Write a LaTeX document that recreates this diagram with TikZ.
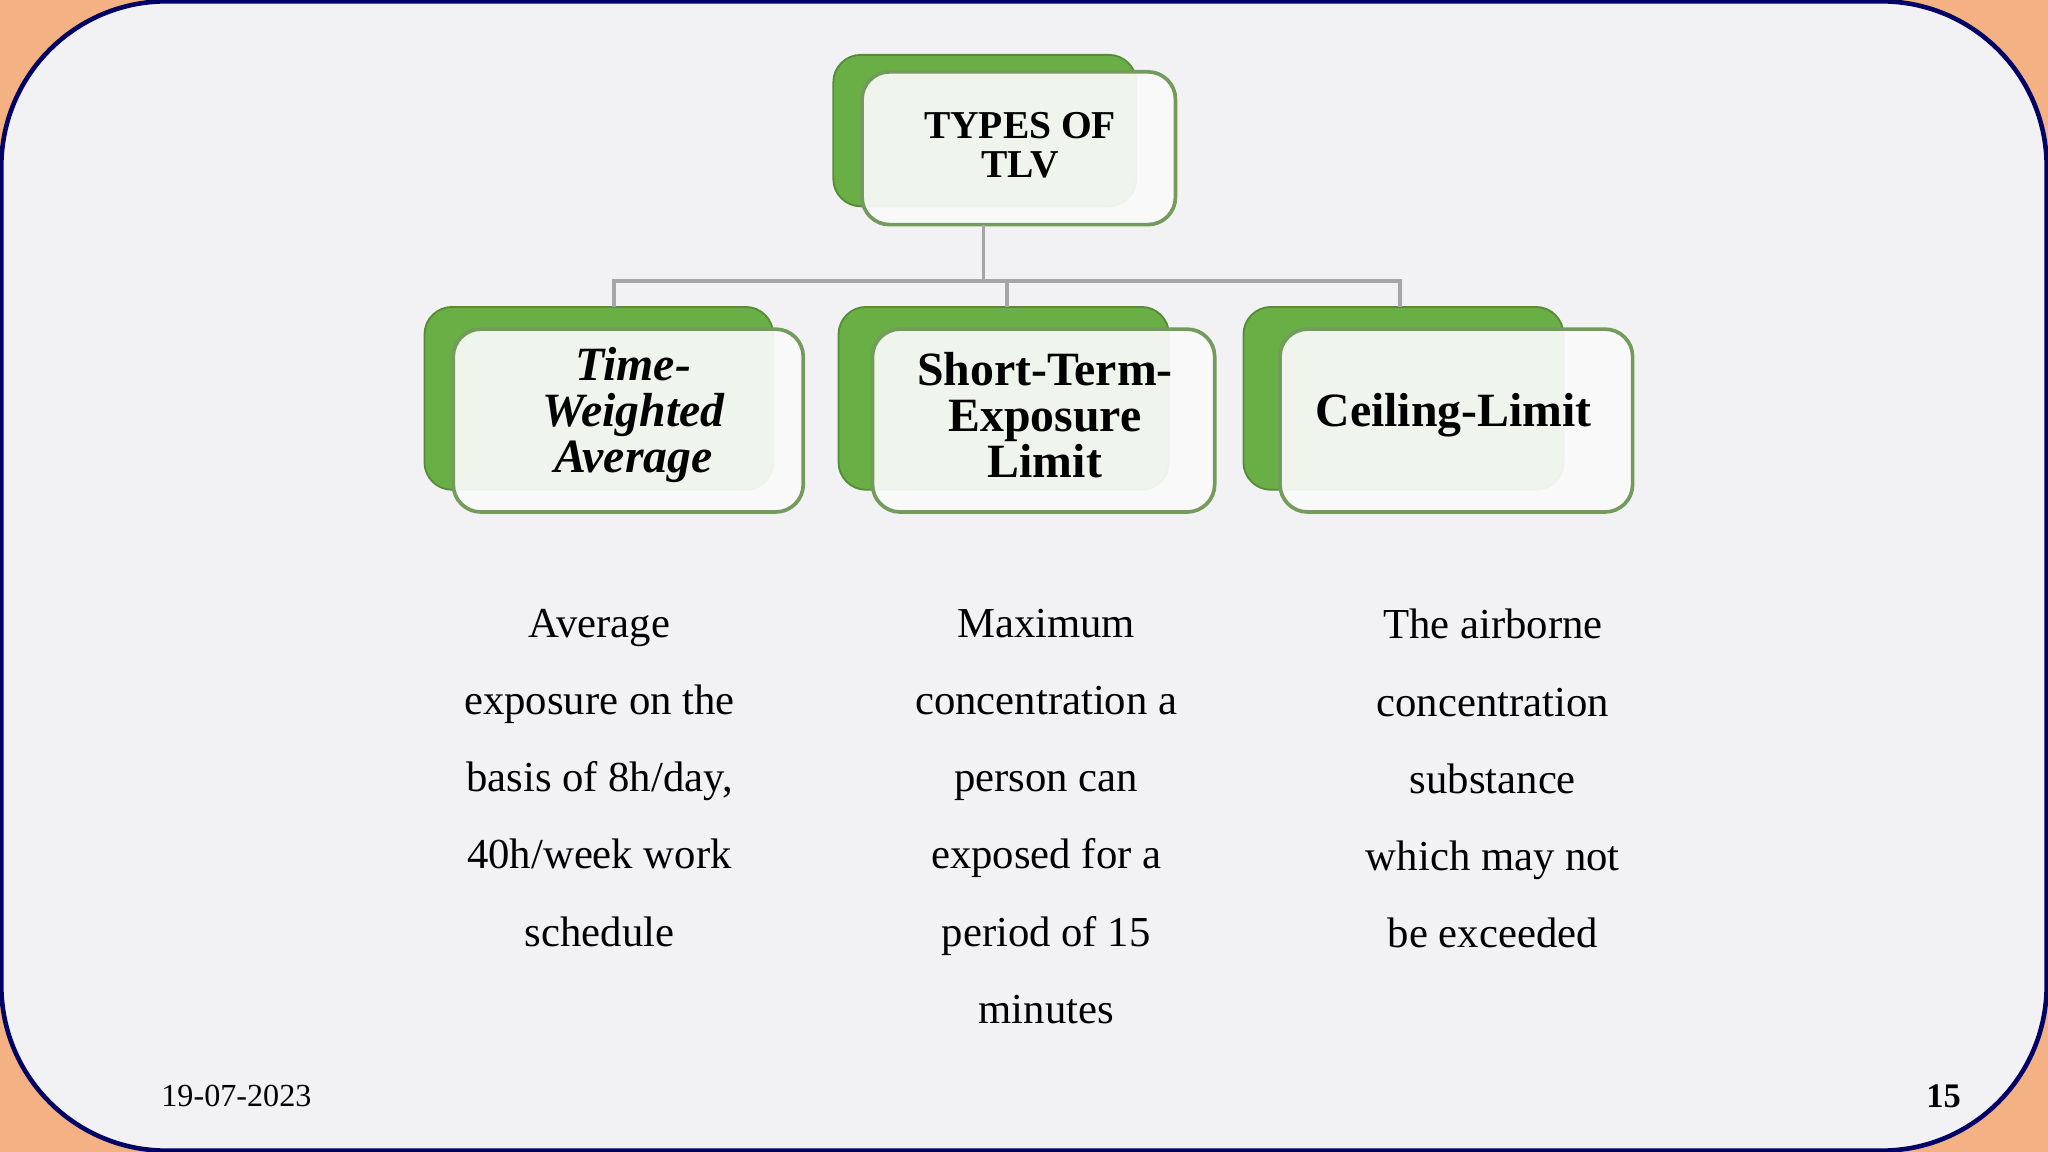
\documentclass[tikz,border=0pt]{standalone}
\usepackage{fontspec}
\setmainfont{Liberation Serif}
\definecolor{gr}{HTML}{6AAF45}
\definecolor{bg}{HTML}{F2F2F5}
\definecolor{org}{HTML}{F4B183}
\begin{document}
\begin{tikzpicture}[x=0.01cm,y=-0.01cm,
  greenbox/.style={fill=gr, rounded corners=6pt, draw=gr!80!black},
  frontbox/.style={fill=gray!4, fill opacity=0.93, text opacity=1, rounded corners=6pt, draw=gr!60!gray, line width=0.8pt},
  title/.style={align=center, text=black},
  body/.style={font=\fontsize{9.3pt}{16.8pt}\selectfont, align=center, text=black},
  conn/.style={draw=gray!70, line width=0.8pt}]
\useasboundingbox (0,0) rectangle (1568,882);
\fill[org] (0,0) rectangle (1568,882);
\draw[fill=bg, draw=blue!40!black, line width=1pt, rounded corners=36pt] (1,1) rectangle (1567,881);
% top
\draw[greenbox] (638,42) rectangle (870,158);
\draw[frontbox] (660,55) rectangle (900,172);
\node[title,font=\fontsize{8.6pt}{8.5pt}\selectfont\bfseries] (top) at (781,111) {TYPES OF\\TLV};
\draw[greenbox] (325,235) rectangle (592,375);
\draw[frontbox] (347,252) rectangle (615,392);
\node[title,font=\fontsize{10.4pt}{10pt}\selectfont\bfseries\itshape] (twa) at (485,318) {Time-\\Weighted\\Average};
\draw[greenbox] (642,235) rectangle (895,375);
\draw[frontbox] (668,252) rectangle (930,392);
\node[title,font=\fontsize{10.4pt}{10pt}\selectfont\bfseries] (stel) at (800,318) {Short-Term-\\Exposure\\Limit};
\draw[greenbox] (952,235) rectangle (1197,375);
\draw[frontbox] (980,252) rectangle (1250,392);
\node[title,font=\fontsize{10.4pt}{10pt}\selectfont\bfseries] (cl) at (1113,318) {Ceiling-Limit};
% connectors
\coordinate (j) at (753,215);
\coordinate (l) at (470,215);
\coordinate (r) at (1072,215);
\coordinate (m) at (771,215);
\draw[conn] (753,172) -- (j);
\draw[conn] (470,235) -- (l) -- (r) -- (1072,235);
\draw[conn] (m) -- (771,235);
% texts
\node[body,anchor=north] (t1) at (459,454) {Average\\exposure on the\\basis of 8h/day,\\40h/week work\\schedule};
\node[body,anchor=north] (t2) at (801,454) {Maximum\\concentration a\\person can\\exposed for a\\period of 15\\minutes};
\node[body,anchor=north] (t3) at (1143,454) {The airborne\\concentration\\substance\\which may not\\be exceeded};
\node[font=\fontsize{7pt}{8pt}\selectfont] (date) at (181,839) {19-07-2023};
\node[font=\fontsize{7.5pt}{8pt}\selectfont\bfseries] (pg) at (1488,839) {15};
\end{tikzpicture}
\end{document}
